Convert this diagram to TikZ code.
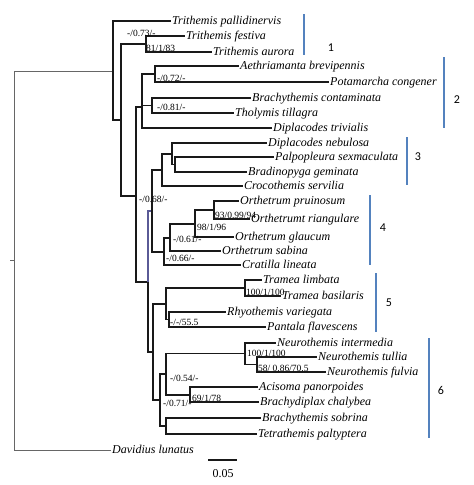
\documentclass[tikz,border=0pt]{standalone}
\usepackage{fontspec}
\setmainfont{Liberation Serif}
\newfontfamily\calib{Carlito}
\definecolor{barblue}{RGB}{84,130,190}
\definecolor{slate}{RGB}{90,90,150}
\begin{document}
\begin{tikzpicture}[x=1pt,y=-1pt,
  br/.style={draw=black!90,line width=1.1pt},
  rt/.style={draw=black!60,line width=1pt},
  sp/.style={anchor=west,inner sep=1pt,font=\fontsize{12}{12}\selectfont\itshape,text height=8.5pt,text depth=2.5pt},
  sup/.style={anchor=base west,inner sep=0pt,font=\fontsize{9.5}{9.5}\selectfont},
  grp/.style={font=\calib\fontsize{12}{12}\selectfont,inner sep=0pt},
  gbar/.style={draw=barblue,line width=1.3pt}]
\useasboundingbox (0,0) rectangle (474,485);
% internal nodes
\coordinate (stub) at (10,260.5);
\coordinate (R) at (14,260.5);
\coordinate (N1) at (113,71);
\coordinate (N2) at (121,120);
\coordinate (NT) at (146,44);
\coordinate (N3) at (136,196);
\coordinate (C2) at (142,107);
\coordinate (A) at (155,74);
\coordinate (B) at (152,105.5);
\coordinate (N4) at (148,282);
\coordinate (N5) at (152,211);
\coordinate (C3) at (162,170);
\coordinate (C3a) at (172,154);
\coordinate (C3b) at (175,164.5);
\coordinate (C4) at (164,252);
\coordinate (C4a) at (170,238);
\coordinate (C4b) at (195,224);
\coordinate (C4c) at (214,210);
\coordinate (N6) at (153,352);
\coordinate (C5) at (166,304);
\coordinate (C5a) at (245,288);
\coordinate (C5b) at (169,319.5);
\coordinate (C6) at (160,400);
\coordinate (C6a) at (166,374);
\coordinate (C6b) at (166,426);
\coordinate (C6c) at (245,353.5);
\coordinate (C6e) at (257,364.5);
\coordinate (C6d) at (190,395);
% tips
\node[sp] (t1) at (171,21) {Trithemis pallidinervis};
\node[sp] (t2) at (185,36) {Trithemis festiva};
\node[sp] (t3) at (212,52) {Trithemis aurora};
\node[sp] (t4) at (239,66) {Aethriamanta brevipennis};
\node[sp] (t5) at (329,82) {Potamarcha congener};
\node[sp] (t6) at (251,98) {Brachythemis contaminata};
\node[sp] (t7) at (234,113) {Tholymis tillagra};
\node[sp] (t8) at (272,128) {Diplacodes trivialis};
\node[sp] (t9) at (267,143) {Diplacodes nebulosa};
\node[sp] (t10) at (274,157) {Palpopleura sexmaculata};
\node[sp] (t11) at (247,172) {Bradinopyga geminata};
\node[sp] (t12) at (243,186) {Crocothemis servilia};
\node[sp] (t13) at (239,201) {Orthetrum pruinosum};
\node[sp] (t14) at (250,219) {Orthetrumt riangulare};
\node[sp] (t15) at (234,237) {Orthetrum glaucum};
\node[sp] (t16) at (221,251) {Orthetrum sabina};
\node[sp] (t17) at (241,265) {Cratilla lineata};
\node[sp] (t18) at (262,280) {Tramea limbata};
\node[sp] (t19) at (281,296) {Tramea basilaris};
\node[sp] (t20) at (226,312) {Rhyothemis variegata};
\node[sp] (t21) at (266,327) {Pantala flavescens};
\node[sp] (t22) at (276,343) {Neurothemis intermedia};
\node[sp] (t23) at (317,357) {Neurothemis tullia};
\node[sp] (t24) at (326,372) {Neurothemis fulvia};
\node[sp] (t25) at (258,387) {Acisoma panorpoides};
\node[sp] (t26) at (259,402) {Brachydiplax chalybea};
\node[sp] (t27) at (261,418) {Brachythemis sobrina};
\node[sp] (t28) at (257,434) {Tetrathemis paltyptera};
\node[sp] (t29) at (111,450) {Davidius lunatus};
% root
\draw[rt] (stub) -- (R);
\draw[rt] (R) |- (N1);
\draw[rt] (R) |- (t29.west);
% branches
\draw[br] (N1) |- (t1.west);
\draw[br] (N1) |- (N2);
\draw[br] (N2) |- (NT);
\draw[br] (NT) |- (t2.west);
\draw[br] (NT) |- (t3.west);
\draw[br] (N2) |- (N3);
\draw[br] (N3) |- (C2);
\draw[br] (C2) |- (A);
\draw[br] (A) |- (t4.west);
\draw[br] (A) |- (t5.west);
\draw[br] (C2) |- (B);
\draw[br] (B) |- (t6.west);
\draw[br] (B) |- (t7.west);
\draw[br] (C2) |- (t8.west);
\draw[br] (N3) |- (N4);
\draw[br,draw=slate] (N4) |- (N5);
\draw[br] (N5) |- (C3);
\draw[br] (C3) |- (C3a);
\draw[br] (C3a) |- (t9.west);
\draw[br] (C3a) |- (C3b);
\draw[br] (C3b) |- (t10.west);
\draw[br] (C3b) |- (t11.west);
\draw[br] (C3) |- (t12.west);
\draw[br] (N5) |- (C4);
\draw[br] (C4) |- (C4a);
\draw[br] (C4a) |- (C4b);
\draw[br] (C4b) |- (C4c);
\draw[br] (C4c) |- (t13.west);
\draw[br] (C4c) |- (t14.west);
\draw[br] (C4b) |- (t15.west);
\draw[br] (C4a) |- (t16.west);
\draw[br] (C4) |- (t17.west);
\draw[br] (N4) |- (N6);
\draw[br] (N6) |- (C5);
\draw[br] (C5) |- (C5a);
\draw[br] (C5a) |- (t18.west);
\draw[br] (C5a) |- (t19.west);
\draw[br] (C5) |- (C5b);
\draw[br] (C5b) |- (t20.west);
\draw[br] (C5b) |- (t21.west);
\draw[br] (N6) |- (C6);
\draw[br] (C6) |- (C6a);
\draw[br] (C6a) |- (C6c);
\draw[br] (C6c) |- (t22.west);
\draw[br] (C6c) |- (C6e);
\draw[br] (C6e) |- (t23.west);
\draw[br] (C6e) |- (t24.west);
\draw[br] (C6a) |- (C6d);
\draw[br] (C6d) |- (t25.west);
\draw[br] (C6d) |- (t26.west);
\draw[br] (C6) |- (C6b);
\draw[br] (C6b) |- (t27.west);
\draw[br] (C6b) |- (t28.west);
% support values
\node[sup] (s1) at (127,36.5) {-/0.73/-};
\node[sup] (s2) at (146,51.5) {81/1/83};
\node[sup] (s3) at (157,81.5) {-/0.72/-};
\node[sup] (s4) at (157,110) {-/0.81/-};
\node[sup] (s5) at (139,202.5) {-/0.68/-};
\node[sup] (s6) at (215,218) {93/0.99/94};
\node[sup] (s7) at (197,230) {98/1/96};
\node[sup] (s8) at (173,242) {-/0.61/-};
\node[sup] (s9) at (166,261) {-/0.66/-};
\node[sup] (s10) at (246,295) {100/1/100};
\node[sup] (s11) at (170,325) {-/-/55.5};
\node[sup] (s12) at (247,356) {100/1/100};
\node[sup] (s13) at (258,371) {58/ 0.86/70.5};
\node[sup] (s14) at (170,381) {-/0.54/-};
\node[sup] (s15) at (192,401) {69/1/78};
\node[sup] (s16) at (163,406) {-/0.71/-};
% group bars
\draw[gbar] (304,14) -- (304,55);
\draw[gbar] (444,57) -- (444,128);
\draw[gbar] (407,137) -- (407,185);
\draw[gbar] (370,195) -- (370,265);
\draw[gbar] (376,273) -- (376,332);
\draw[gbar] (429,338) -- (429,438);
\node[grp] (g1) at (331,48) {1};
\node[grp] (g2) at (457,100) {2};
\node[grp] (g3) at (418,157) {3};
\node[grp] (g4) at (383,228) {4};
\node[grp] (g5) at (389,303) {5};
\node[grp] (g6) at (441,390) {6};
% scale bar
\coordinate (sb1) at (208,460);
\coordinate (sb2) at (237,460);
\draw[br] (sb1) -- (sb2);
\node[font=\fontsize{12}{12}\selectfont,inner sep=0pt] (sbl) at (223,474) {0.05};
\end{tikzpicture}
\end{document}
